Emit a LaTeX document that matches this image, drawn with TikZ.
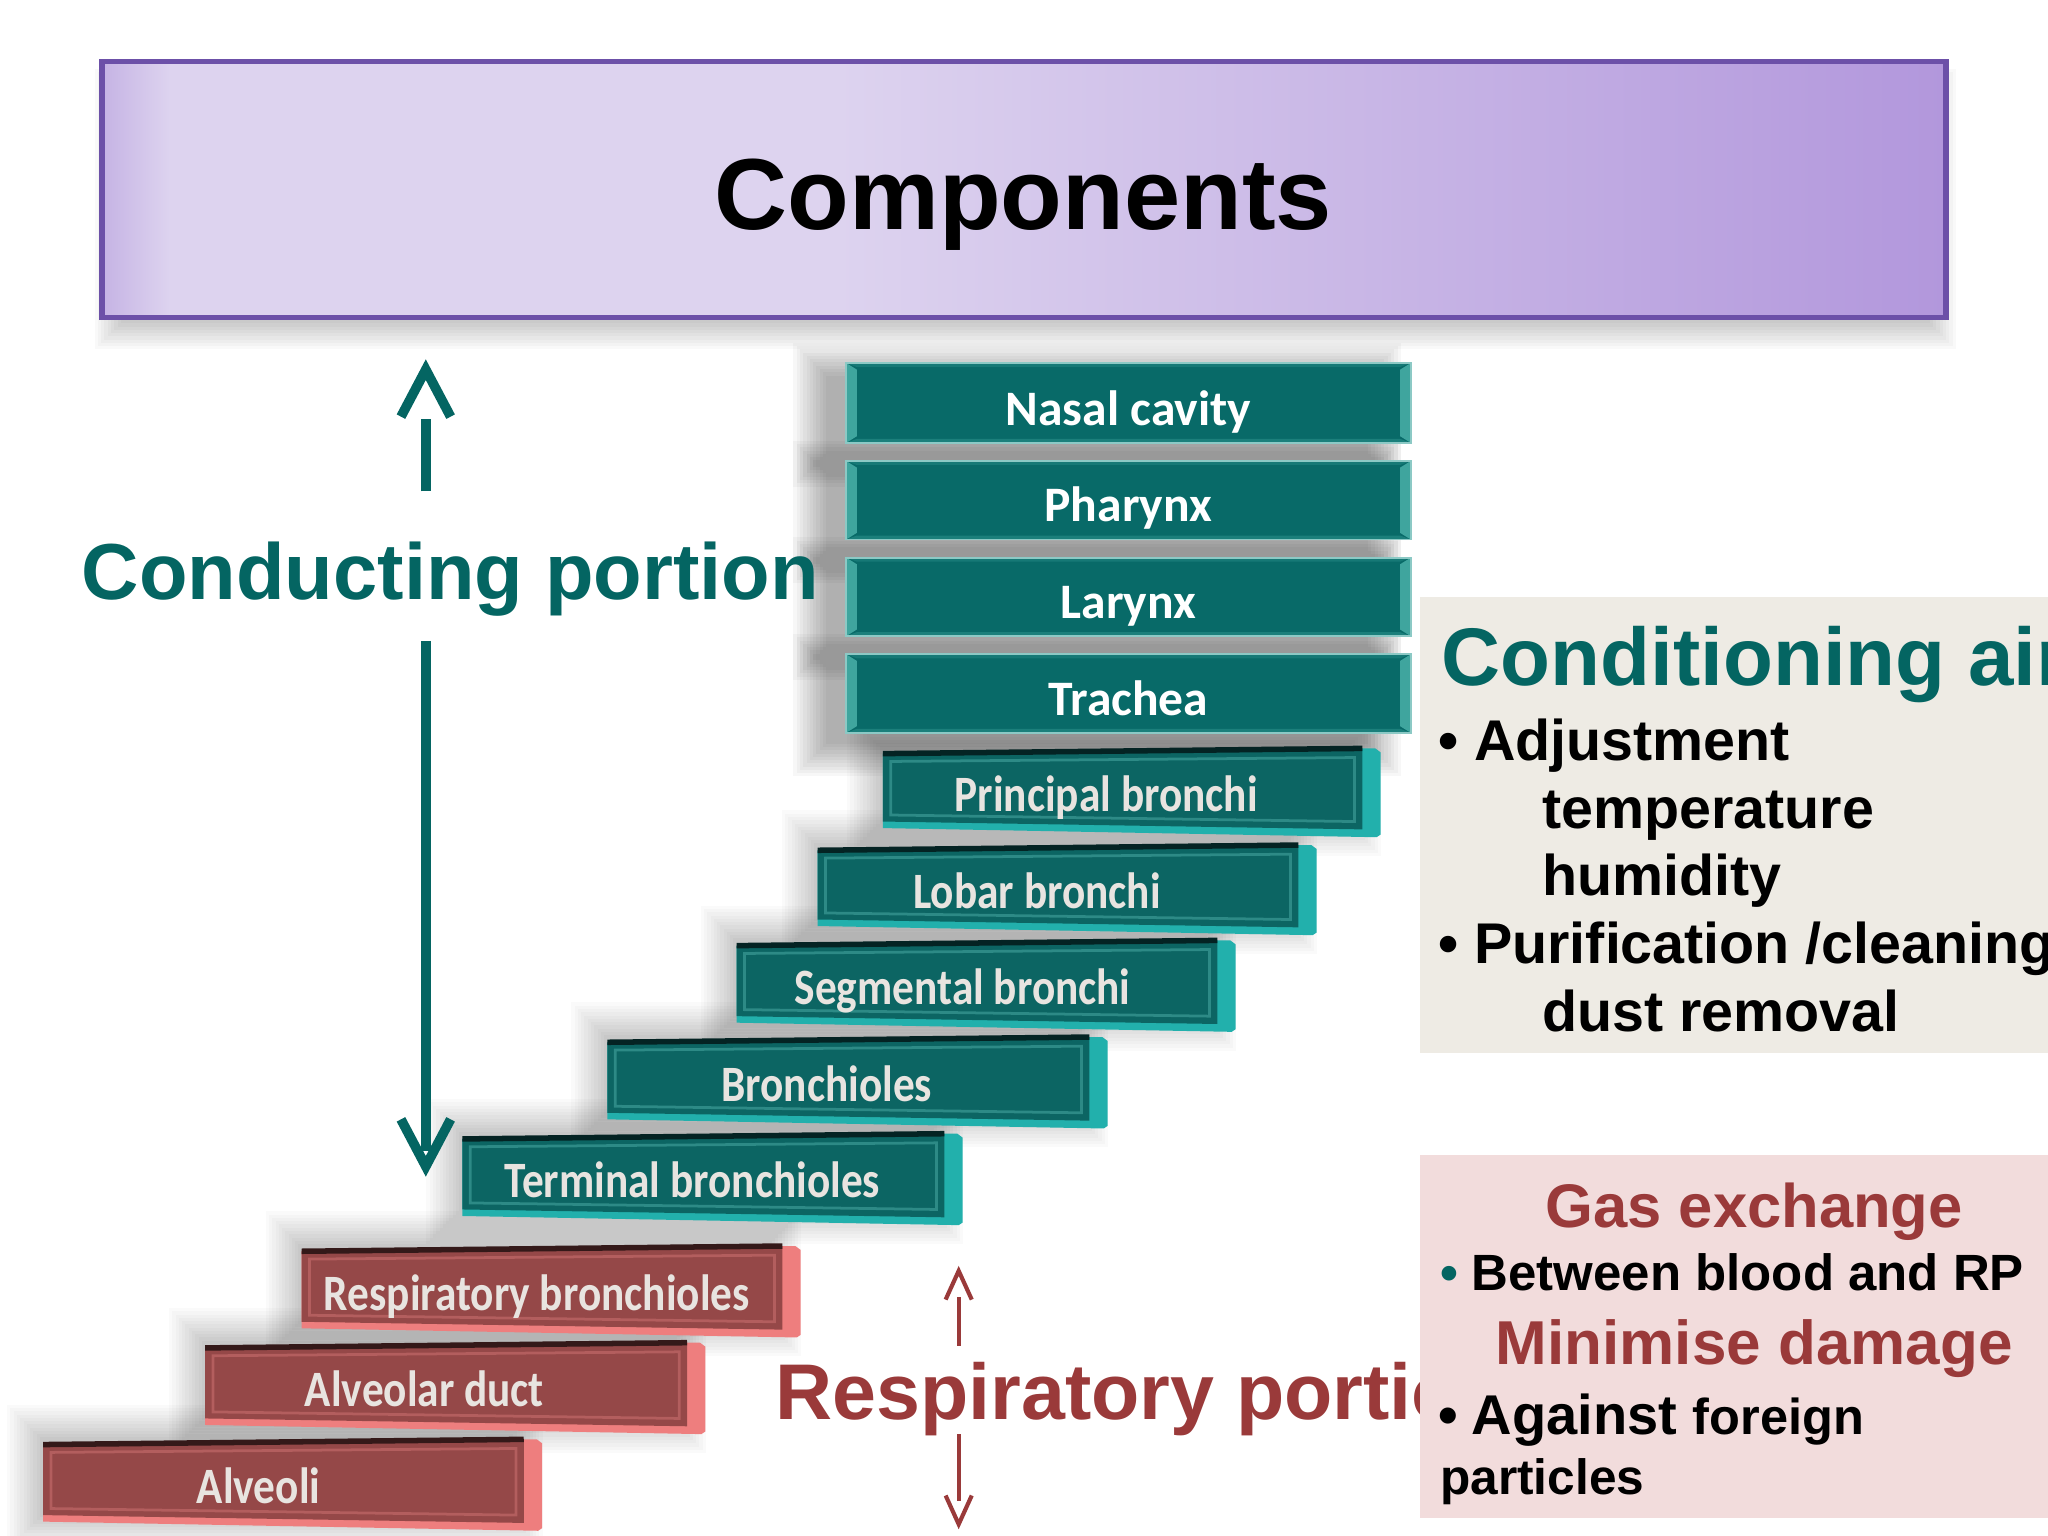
\documentclass[tikz,border=0pt]{standalone}
\usepackage{fontspec}
\setmainfont{Liberation Sans}
\newfontfamily\carl{Carlito}
\usetikzlibrary{calc}
\definecolor{tealtxt}{HTML}{046562}
\definecolor{redtxt}{HTML}{9A3A3A}
\definecolor{boxteal}{HTML}{086A68}
\definecolor{bevelc}{HTML}{3FA59E}
\definecolor{slabface}{HTML}{0C6563}
\definecolor{slabside}{HTML}{22B0AC}
\definecolor{slabframe}{HTML}{2D8A86}
\definecolor{redface}{HTML}{954848}
\definecolor{redside}{HTML}{EE7E7E}
\definecolor{redframe}{HTML}{B35E5E}
\definecolor{slabtext}{HTML}{E8E4E0}
\definecolor{beige}{HTML}{EEEBE4}
\definecolor{pinkp}{HTML}{F2DCDC}
\definecolor{lavA}{HTML}{DDD3EF}
\definecolor{lavB}{HTML}{B297DC}
\definecolor{lavE}{HTML}{C5B3E4}
\definecolor{lavline}{HTML}{6C50A8}
\newcommand{\setfs}[1]{\fontsize{#1}{#1}\selectfont}
\newcommand{\softshadow}[5]{\foreach \k in {1,...,11}{\fill[black,opacity=#5] (#1-\k*2.5,#2-\k*2.5) rectangle (#3+\k*2.5,#4+\k*2.5);}}
\newcommand{\bevelbox}[4]{%
  \fill[boxteal] (#1,#2) rectangle (#3,#4);
  \fill[bevelc] (#1,#2) -- (#1+8,#2+5) -- (#1+8,#4-5) -- (#1,#4) -- cycle;
  \fill[bevelc] (#3,#2) -- (#3-8,#2+5) -- (#3-8,#4-5) -- (#3,#4) -- cycle;
  \fill[boxteal!75!bevelc] (#1,#2) -- (#3,#2) -- (#3-8,#2+3) -- (#1+8,#2+3) -- cycle;
  \fill[boxteal!65!bevelc] (#1,#4) -- (#3,#4) -- (#3-8,#4-3) -- (#1+8,#4-3) -- cycle;
  \draw[bevelc!60!white, line width=0.4pt] (#1,#2) rectangle (#3,#4);}
\newcommand{\drawslab}[7]{%
  \fill[#6] (#1,#2+4) -- (#3-14,#2) -- (#3-4,#2) -- (#3,#2+3) -- (#3,#4-2) -- (#3-3,#4) -- (#1,#4-7) -- cycle;
  \fill[#5] (#1,#2+4) -- (#3-14,#2) -- (#3-14,#4-6) -- (#1,#4-12) -- cycle;
  \draw[#7, line width=0.6pt] (#1+6,#2+10) -- (#3-20,#2+7) -- (#3-20,#4-12) -- (#1+6,#4-17) -- cycle;
  \draw[black!65!#5, line width=1.2pt] (#1,#2+4) -- (#3-14,#2);}
\tikzset{
  boxtxt/.style={inner sep=0pt, anchor=base, text=white, font=\carl\bfseries\setfs{10.8pt}},
  slabtxt/.style={inner sep=0pt, anchor=base, text=slabtext, font=\carl\bfseries\setfs{11.1pt}, xscale=0.85},
  lbl/.style={inner sep=0pt, anchor=base west},
  cline/.style={draw=tealtxt, line width=2.3pt},
  rline/.style={draw=redtxt, line width=0.9pt},
}
\begin{document}
\begin{tikzpicture}[x=0.01cm,y=-0.01cm]
\useasboundingbox (0,0) rectangle (1568,1176);
\clip (0,0) rectangle (1568,1176);
\fill[white] (0,0) rectangle (1568,1176);

% ---- Components header
\softshadow{100}{80}{1470}{240}{0.025}
\fill[lavA] (78,47) rectangle (1490,243);
\shade[left color=lavE, right color=lavA] (78,47) rectangle (130,243);
\shade[left color=lavA, right color=lavB] (640,47) rectangle (1490,243);
\draw[lavline, line width=1.2pt] (78,47) rectangle (1490,243);
\node[inner sep=0pt, anchor=base, font=\bfseries\setfs{22pt}] (comp) at (783.5,176) {Components};

% ---- shadows
\softshadow{635}{290}{1045}{345}{0.03}
\softshadow{635}{365}{1045}{419}{0.03}
\softshadow{635}{439}{1045}{493}{0.03}
\softshadow{635}{513}{1045}{567}{0.03}
\softshadow{676}{574}{1030}{628}{0.02}
\softshadow{626}{648}{981}{703}{0.02}
\softshadow{564}{721}{919}{777}{0.02}
\softshadow{465}{795}{821}{851}{0.02}
\softshadow{354}{869}{710}{925}{0.02}
\softshadow{231}{955}{586}{1011}{0.02}
\softshadow{157}{1029}{513}{1085}{0.02}
\softshadow{33}{1103}{388}{1159}{0.02}

% ---- top boxes
\bevelbox{648}{278}{1080}{339}
\bevelbox{648}{353}{1080}{413}
\bevelbox{648}{427}{1080}{487}
\bevelbox{648}{501}{1080}{561}
\node[boxtxt] (nasal) at (864,325.5) {Nasal cavity};
\node[boxtxt] (phar) at (864,399.5) {Pharynx};
\node[boxtxt] (lar) at (864,473.5) {Larynx};
\node[boxtxt] (trach) at (864,547.5) {Trachea};

% ---- slabs
\drawslab{676}{573}{1057}{641}{slabface}{slabside}{slabframe}
\drawslab{626}{647}{1008}{716}{slabface}{slabside}{slabframe}
\drawslab{564}{720}{946}{790}{slabface}{slabside}{slabframe}
\drawslab{465}{794}{848}{864}{slabface}{slabside}{slabframe}
\drawslab{354}{868}{737}{938}{slabface}{slabside}{slabframe}
\drawslab{231}{954}{613}{1024}{redface}{redside}{redframe}
\drawslab{157}{1028}{540}{1098}{redface}{redside}{redframe}
\drawslab{33}{1102}{415}{1172}{redface}{redside}{redframe}
\node[slabtxt] (princ) at (847,621) {Principal bronchi};
\node[slabtxt] (lobar) at (794,695.5) {Lobar bronchi};
\node[slabtxt] (segm) at (737,769) {Segmental bronchi};
\node[slabtxt] (bronch) at (633,843) {Bronchioles};
\node[slabtxt] (term) at (530,917) {Terminal bronchioles};
\node[slabtxt] (respb) at (411,1003) {Respiratory bronchioles};
\node[slabtxt] (alvd) at (325,1077) {Alveolar duct};
\node[slabtxt] (alv) at (198,1151) {Alveoli};

% ---- Conducting portion
\node[lbl, text=tealtxt, font=\bfseries\setfs{17.3pt}] (cp) at (62,459) {Conducting portion};
\coordinate (cpTop) at (326,283);
\coordinate (cpBot) at (326,893);
\draw[cline] ($(cp.north -| cpTop)+(0,-38)$) -- ($(cpTop)+(0,38)$);
\draw[cline] ($(cp.south -| cpBot)+(0,18)$) -- ($(cpBot)+(0,-12)$);
\draw[cline, line width=2.1pt, miter limit=20] ($(cpTop)+(-19,36)$) -- (cpTop) -- ($(cpTop)+(19,36)$);
\draw[cline, line width=2.1pt, miter limit=20] ($(cpBot)+(-19,-36)$) -- (cpBot) -- ($(cpBot)+(19,-36)$);

% ---- Respiratory portion
\node[lbl, text=redtxt, font=\bfseries\setfs{17.2pt}] (rp) at (593,1087) {Respiratory portion};
\coordinate (rpTop) at (734,973);
\coordinate (rpBot) at (734,1167);
\draw[rline] ($(rp.north -| rpTop)+(0,-12)$) -- ($(rpTop)+(0,20)$);
\draw[rline] ($(rp.south -| rpBot)+(0,-2)$) -- ($(rpBot)+(0,-18)$);
\draw[rline, miter limit=20] ($(rpTop)+(-10,22)$) -- (rpTop) -- ($(rpTop)+(10,22)$);
\draw[rline, miter limit=20] ($(rpBot)+(-10,-22)$) -- (rpBot) -- ($(rpBot)+(10,-22)$);

% ---- Conditioning panel
\fill[beige] (1087,457) rectangle (1568,806);
\node[lbl, text=tealtxt, font=\bfseries\setfs{17.8pt}] (cond) at (1103,525) {Conditioning air};
\node[lbl, font=\bfseries\setfs{12.5pt}] (b1) at (1101,582) {\textbullet};
\node[lbl, font=\bfseries\setfs{12.5pt}] (adj) at (1128,582) {Adjustment};
\node[lbl, font=\bfseries\setfs{12.5pt}] (temp) at (1180,634) {temperature};
\node[lbl, font=\bfseries\setfs{12.5pt}] (hum) at (1180,686) {humidity};
\node[lbl, font=\bfseries\setfs{12.5pt}] (b2) at (1101,738) {\textbullet};
\node[lbl, font=\bfseries\setfs{12.5pt}] (pur) at (1128,738) {Purification /cleaning};
\node[lbl, font=\bfseries\setfs{12.5pt}] (dust) at (1180,790) {dust removal};

% ---- Gas exchange panel
\fill[pinkp] (1087,884) rectangle (1568,1162);
\node[inner sep=0pt, anchor=base, text=redtxt, font=\bfseries\setfs{13.4pt}] (gas) at (1343,940) {Gas exchange};
\node[lbl, text=tealtxt, font=\bfseries\setfs{11.1pt}] (b3) at (1102,988) {\textbullet};
\node[lbl, font=\bfseries\setfs{11.1pt}] (betw) at (1126,988) {Between blood and RP};
\node[inner sep=0pt, anchor=base, text=redtxt, font=\bfseries\setfs{13.5pt}] (mini) at (1343,1045) {Minimise damage};
\node[lbl, font=\bfseries\setfs{12.2pt}] (b4) at (1101,1098) {\textbullet};
\node[lbl, font=\bfseries] (agst) at (1126,1098) {\setfs{12.2pt}Against \setfs{11pt}foreign};
\node[lbl, font=\bfseries\setfs{10.8pt}] (part) at (1102,1144) {particles};
\end{tikzpicture}
\end{document}
